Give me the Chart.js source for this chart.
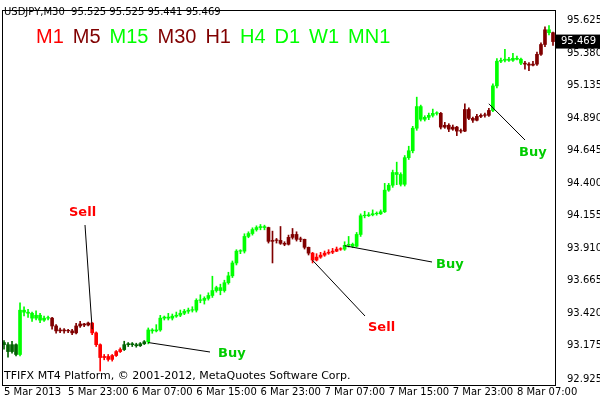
<!DOCTYPE html>
<html>
<head>
<meta charset="utf-8">
<script src="https://cdn.jsdelivr.net/npm/chart.js@4.4.0/dist/chart.umd.min.js"></script>
<style>
  body { margin: 0; background: #fff; }
  #wrap { width: 600px; height: 400px; }
</style>
</head>
<body>
<div id="wrap"><canvas id="grafico" width="600" height="400"></canvas></div>
<script>
// USDJPY M30, valores
const closes = [93.184,93.132,93.184,93.110,93.444,93.429,93.421,93.384,93.406,93.369,93.384,93.384,
  93.325,93.288,93.295,93.288,93.288,93.273,93.325,93.340,93.332,93.347,
  93.273,93.184,93.087,93.095,93.073,93.102,93.132,93.147,
  93.184,93.191,93.184,93.176,93.191,93.206,
  93.295,93.288,93.295,93.384,93.392,93.384,93.399,93.406,93.421,93.436,93.444,93.444,93.518,93.518,
  93.533,93.555,93.592,93.614,93.592,93.651,93.703,93.800,93.889,93.889,94.000,94.022,94.052,94.067,94.074,94.067,
  93.963,93.970,93.970,93.948,93.941,93.993,94.015,93.978,93.978,93.918,93.874,
  93.822,93.844,93.859,93.874,93.881,93.889,93.904,93.904,
  93.933,93.941,93.926,94.015,94.156,94.156,94.163,94.171,94.171,94.186,94.349,94.386,94.482,94.467,94.393,
  94.594,94.646,94.816,94.979,94.883,94.898,94.913,94.928,94.928,
  94.824,94.838,94.809,94.824,94.794,94.794,94.957,94.890,94.876,94.905,94.913,94.913,94.950,
  95.135,95.321,95.328,95.336,95.328,95.343,95.336,95.306,
  95.299,95.291,95.299,95.373,95.447,95.558,95.536,95.469];
const opens = [93.200,93.184,93.132,93.184,93.110,93.444,93.429,93.421,93.384,93.406,93.369,93.384,
  93.384,93.325,93.288,93.295,93.288,93.288,93.273,93.325,93.340,93.332,
  93.347,93.273,93.184,93.087,93.095,93.073,93.102,93.132,
  93.147,93.184,93.191,93.184,93.176,93.191,
  93.206,93.295,93.288,93.295,93.384,93.392,93.384,93.399,93.406,93.421,93.436,93.444,93.444,93.518,
  93.518,93.533,93.555,93.592,93.614,93.592,93.651,93.703,93.800,93.889,93.889,94.000,94.022,94.052,94.067,94.074,
  94.067,93.963,93.970,93.970,93.948,93.941,93.993,94.015,93.978,93.978,93.918,
  93.874,93.822,93.844,93.859,93.874,93.881,93.889,93.904,
  93.904,93.933,93.941,93.926,94.015,94.156,94.156,94.163,94.171,94.171,94.186,94.349,94.386,94.482,94.467,
  94.393,94.594,94.646,94.816,94.979,94.883,94.898,94.913,94.928,
  94.928,94.824,94.838,94.809,94.824,94.794,94.794,94.957,94.890,94.876,94.905,94.913,94.913,
  94.950,95.135,95.321,95.328,95.336,95.328,95.343,95.336,
  95.306,95.299,95.291,95.299,95.373,95.447,95.558,95.536];
const highs = [93.215,93.200,93.210,93.190,93.500,93.470,93.450,93.430,93.440,93.420,93.400,93.400,
  93.390,93.335,93.310,93.305,93.300,93.300,93.345,93.360,93.345,93.355,
  93.350,93.280,93.190,93.110,93.110,93.110,93.140,93.160,
  93.210,93.200,93.200,93.195,93.200,93.215,
  93.310,93.305,93.335,93.405,93.400,93.420,93.415,93.430,93.445,93.450,93.460,93.470,93.530,93.560,
  93.545,93.575,93.700,93.625,93.640,93.670,93.730,93.815,93.900,93.900,94.020,94.035,94.065,94.080,94.090,94.085,
  94.070,94.040,93.985,94.075,93.960,94.010,94.060,94.035,93.995,93.980,93.920,
  93.880,93.870,93.880,93.890,93.900,93.910,93.920,93.915,
  93.960,94.000,93.950,94.030,94.170,94.190,94.180,94.200,94.185,94.200,94.400,94.400,94.500,94.560,94.480,
  94.610,94.680,94.830,95.050,94.990,94.910,94.930,94.960,94.940,
  94.935,94.860,94.850,94.840,94.830,94.810,95.000,94.970,94.900,94.920,94.925,94.930,94.965,
  95.150,95.340,95.345,95.410,95.350,95.380,95.360,95.345,
  95.320,95.310,95.320,95.390,95.460,95.580,95.590,95.540];
const lows = [93.150,93.090,93.120,93.100,93.100,93.400,93.390,93.360,93.370,93.350,93.360,93.370,
  93.300,93.270,93.275,93.270,93.275,93.260,93.265,93.315,93.320,93.325,
  93.260,93.170,92.985,93.070,93.060,93.060,93.095,93.125,
  93.140,93.170,93.170,93.165,93.170,93.185,
  93.190,93.270,93.280,93.285,93.370,93.370,93.370,93.390,93.395,93.410,93.420,93.430,93.430,93.500,
  93.490,93.520,93.540,93.580,93.560,93.580,93.640,93.690,93.785,93.870,93.875,93.990,94.010,94.040,94.050,94.050,
  93.950,93.800,93.950,93.940,93.930,93.935,93.980,93.965,93.960,93.905,93.860,
  93.800,93.815,93.835,93.850,93.865,93.870,93.885,93.895,
  93.895,93.920,93.915,93.920,94.000,94.140,94.150,94.155,94.160,94.165,94.180,94.340,94.370,94.390,94.380,
  94.380,94.580,94.630,94.800,94.870,94.870,94.880,94.900,94.915,
  94.810,94.815,94.790,94.800,94.760,94.780,94.790,94.880,94.860,94.870,94.895,94.900,94.905,
  94.940,95.120,95.310,95.315,95.320,95.320,95.330,95.295,
  95.260,95.250,95.285,95.290,95.365,95.430,95.520,95.440];
const priceTicks = [95.625,95.380,95.135,94.890,94.645,94.400,94.155,93.910,93.665,93.420,93.175,92.925];
const timeLabels = ['5 Mar 2013','5 Mar 23:00','6 Mar 07:00','6 Mar 15:00','6 Mar 23:00','7 Mar 07:00','7 Mar 15:00','7 Mar 23:00','8 Mar 07:00'];
const periods = ['M1','M5','M15','M30','H1','H4','D1','W1','MN1'];
const periodColors = ['#ff0000','#800000','#00ff00','#800000','#800000','#00ff00','#00ff00','#00ff00','#00ff00'];
// tramos de color del indicador: [desde, hasta, color]
const tramos = [[0,3,'#006400'],[4,11,'#00ff00'],[12,21,'#800000'],[22,29,'#ff0000'],[30,35,'#006400'],
  [36,65,'#00ff00'],[66,76,'#800000'],[77,84,'#ff0000'],[85,108,'#00ff00'],[109,121,'#800000'],
  [122,129,'#00ff00'],[130,135,'#800000'],[136,136,'#00ff00'],[137,137,'#800000']];
// señales: [texto, color, x texto, y texto, indice vela, precio]
const senales = [['Sell','#ff0000',83,213,22,93.300],['Buy','#00cc00',232,354,36,93.200],
  ['Sell','#ff0000',382,328,77,93.820],['Buy','#00cc00',450,265,85,93.930],['Buy','#00cc00',533,153,121,95.000]];
const lineaFin = [[85,225],[210,352],[365,316],[432,262],[525,140]];

const labels = closes.map((c, i) => i);
const colores = closes.map((c, i) => {
  for (const t of tramos) if (i >= t[0] && i <= t[1]) return t[2];
  return '#00ff00';
});

const mt4Plugin = {
  id: 'mt4',
  afterDraw(chart) {
    const ctx = chart.ctx;
    const a = chart.chartArea;
    const x = chart.scales.x, y = chart.scales.y;
    ctx.save();
    ctx.strokeStyle = '#000';
    ctx.lineWidth = 1;
    ctx.strokeRect(a.left + 0.5, a.top + 0.5, a.right - a.left, a.bottom - a.top);
    // lineas de señales
    senales.forEach((s, k) => {
      ctx.beginPath();
      ctx.moveTo(x.getPixelForValue(s[4]), y.getPixelForValue(s[5]));
      ctx.lineTo(lineaFin[k][0], lineaFin[k][1]);
      ctx.stroke();
      ctx.fillStyle = s[1];
      ctx.font = 'bold 13px "DejaVu Sans", sans-serif';
      ctx.textAlign = 'left';
      ctx.textBaseline = 'middle';
      ctx.fillText(s[0], s[2] - 14, s[3]);
    });
    // cabecera
    ctx.fillStyle = '#000';
    ctx.font = '10px "DejaVu Sans", sans-serif';
    ctx.textBaseline = 'middle';
    ctx.fillText('USDJPY,M30  95.525 95.525 95.441 95.469', 4, 12);
    ctx.font = '20px "Liberation Sans", Arial, sans-serif';
    let px = 36;
    periods.forEach((p, i) => {
      ctx.fillStyle = periodColors[i];
      ctx.fillText(p, px, 37);
      px += ctx.measureText(p).width + 9;
    });
    ctx.fillStyle = '#000';
    ctx.font = '11px "DejaVu Sans", sans-serif';
    ctx.fillText('TFIFX MT4 Platform, \u00a9 2001-2012, MetaQuotes Software Corp.', 4, 376);
    // precio actual
    const yp = y.getPixelForValue(closes[closes.length - 1]);
    ctx.fillStyle = '#000';
    ctx.fillRect(a.right + 1, yp - 7, 45, 14);
    ctx.fillStyle = '#fff';
    ctx.font = '10px "DejaVu Sans", sans-serif';
    ctx.fillText(closes[closes.length - 1].toFixed(3), a.right + 6, yp);
    ctx.restore();
  }
};

new Chart(document.getElementById('grafico').getContext('2d'), {
  type: 'bar',
  data: {
    labels: labels,
    datasets: [{
      data: closes.map((c, i) => [lows[i], highs[i]]),
      backgroundColor: colores,
      barThickness: 1,
      grouped: false,
      order: 2
    }, {
      data: closes.map((c, i) => [opens[i], Math.abs(c - opens[i]) < 0.004 ? c + 0.004 : c]),
      backgroundColor: colores,
      barThickness: 3,
      grouped: false,
      order: 1
    }]
  },
  options: {
    responsive: false,
    animation: false,
    layout: { padding: { left: 2, top: 5, right: 0, bottom: 0 } },
    plugins: { legend: { display: false }, tooltip: { enabled: false } },
    scales: {
      x: {
        offset: true,
        grid: { display: false, drawTicks: false },
        border: { display: false },
        afterFit(s) { s.height = 15; },
        ticks: {
          autoSkip: false,
          maxRotation: 0,
          align: 'start',
          padding: 1,
          color: '#000',
          font: { size: 10, family: '"DejaVu Sans", sans-serif' },
          callback: (v, i) => (i % 16 === 0 && timeLabels[i / 16]) ? timeLabels[i / 16] : ''
        }
      },
      y: {
        position: 'right',
        min: 92.880,
        max: 95.707,
        afterFit(s) { s.width = 45; },
        afterBuildTicks(s) { s.ticks = priceTicks.map(v => ({ value: v })); },
        grid: { display: false, drawTicks: true },
        border: { display: false },
        ticks: {
          color: '#000',
          padding: 4,
          font: { size: 10, family: '"DejaVu Sans", sans-serif' },
          callback: v => v.toFixed(3)
        }
      }
    }
  },
  plugins: [mt4Plugin]
});
</script>
</body>
</html>
